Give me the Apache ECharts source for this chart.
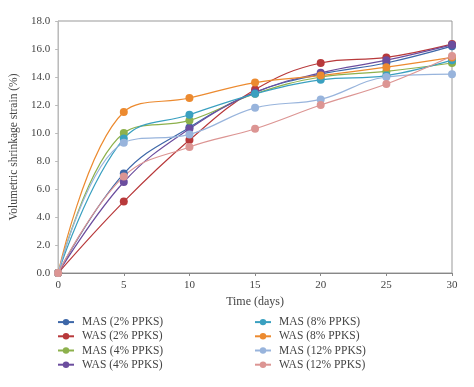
<!DOCTYPE html>
<html>
<head>
<meta charset="utf-8">
<script src="https://cdn.jsdelivr.net/npm/echarts@6/dist/echarts.min.js"></script>
<style>html,body{margin:0;padding:0;background:#fff}#c{width:474px;height:387px}</style>
</head>
<body>
<div id="c"></div>
<script>
var days = [0, 5, 10, 15, 20, 25, 30];
var seriesNames = ['MAS (2% PPKS)', 'WAS (2% PPKS)', 'MAS (4% PPKS)', 'WAS (4% PPKS)',
                   'MAS (8% PPKS)', 'WAS (8% PPKS)', 'MAS (12% PPKS)', 'WAS (12% PPKS)'];
var mas2  = [0, 7.1, 10.4, 12.9, 14.2, 15.0, 16.2];
var was2  = [0, 5.1, 9.5, 13.1, 15.0, 15.4, 16.35];
var mas4  = [0, 10.0, 10.9, 12.8, 14.0, 14.4, 15.0];
var was4  = [0, 6.5, 10.3, 12.9, 14.3, 15.2, 16.3];
var mas8  = [0, 9.6, 11.3, 12.8, 13.8, 14.1, 15.2];
var was8  = [0, 11.5, 12.5, 13.6, 14.1, 14.7, 15.4];
var mas12 = [0, 9.3, 9.9, 11.8, 12.4, 14.0, 14.2];
var was12 = [0, 6.9, 9.0, 10.3, 12.0, 13.5, 15.5];
var allValues = [mas2, was2, mas4, was4, mas8, was8, mas12, was12];
var colors = ['#3d67a8', '#b8393b', '#8db14c', '#6b4d9e', '#3aa0c0', '#ec8a2f', '#98b4dc', '#dc9593'];

var font = 'Liberation Serif';
var series = seriesNames.map(function (n, i) {
  return {
    name: n, type: 'line', smooth: 0.4,
    data: days.map(function (d, j) { return [d, allValues[i][j]]; }),
    symbol: 'circle', symbolSize: 8,
    itemStyle: { color: colors[i] },
    lineStyle: { width: 1.2, color: colors[i] }
  };
});

var chart = echarts.init(document.getElementById('c'));
var legendCommon = {
  orient: 'vertical', top: 315, height: 72, itemWidth: 16, itemHeight: 8, itemGap: 0,
  padding: 0,
  textStyle: { fontFamily: font, fontSize: 11.5, color: '#444', lineHeight: 14.2, padding: [0, 0, 0, 3] }
};
chart.setOption({
  animation: false,
  color: colors,
  grid: { left: 57, right: 22, top: 21, bottom: 114, show: true, borderColor: '#999', borderWidth: 1 },
  xAxis: {
    type: 'value', min: 0, max: 30, interval: 5,
    name: 'Time (days)', nameLocation: 'middle', nameGap: 20,
    nameTextStyle: { fontFamily: font, fontSize: 12, color: '#444' },
    axisLine: { lineStyle: { color: '#888' } },
    axisTick: { show: true, length: 3, lineStyle: { color: '#888' } },
    axisLabel: { fontFamily: font, fontSize: 11, color: '#444', margin: 7 },
    splitLine: { show: false }
  },
  yAxis: {
    type: 'value', min: 0, max: 18, interval: 2,
    name: 'Volumetric shrinkage strain (%)', nameLocation: 'middle', nameGap: 31,
    nameTextStyle: { fontFamily: font, fontSize: 11.5, color: '#444' },
    axisLine: { show: true, lineStyle: { color: '#bbb' } },
    axisTick: { show: true, length: 3, lineStyle: { color: '#bbb' } },
    axisLabel: { fontFamily: font, fontSize: 11, color: '#444', margin: 8,
      formatter: function (v) { return v.toFixed(1); } },
    splitLine: { show: false }
  },
  legend: [
    Object.assign({}, legendCommon, { left: 57, data: seriesNames.slice(0, 4) }),
    Object.assign({}, legendCommon, { left: 254, data: seriesNames.slice(4, 8) })
  ],
  series: series
});
</script>
</body>
</html>
